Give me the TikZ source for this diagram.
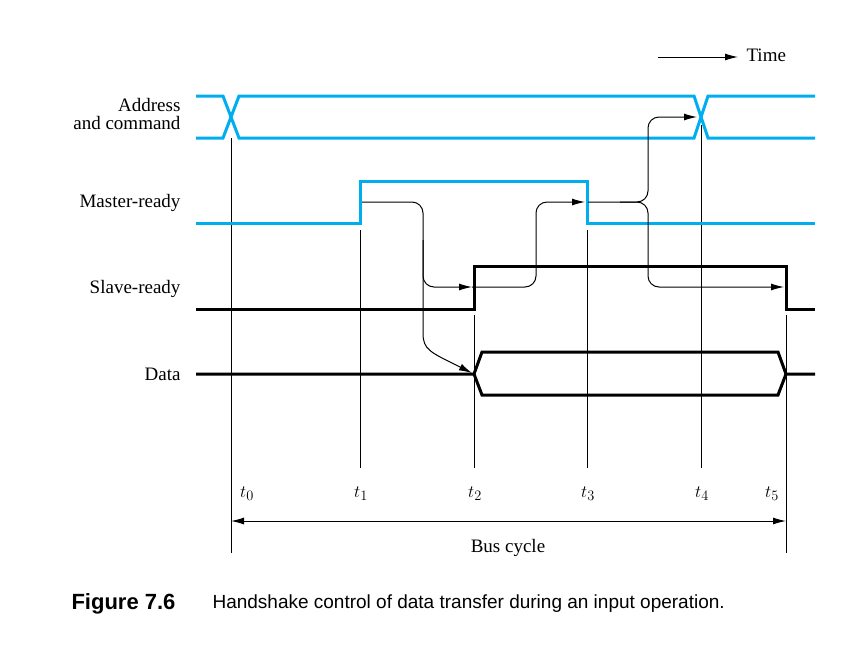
\documentclass[tikz,border=0pt]{standalone}
\usepackage{fontspec}
\setmainfont{Liberation Serif}
\newfontfamily\capfont{Liberation Sans}
\usetikzlibrary{arrows.meta}
\begin{document}
\begin{tikzpicture}[x=1pt,y=-1pt,
  blue sig/.style={draw={rgb,255:red,0;green,174;blue,239},line width=3pt},
  black sig/.style={draw=black,line width=3pt},
  vline/.style={draw=black,line width=0.9pt},
  flow/.style={draw=black,line width=1pt,rounded corners=11pt,-{Latex[length=13pt,width=7pt]}},
  sig label/.style={anchor=east,font=\fontsize{19}{21}\selectfont,align=right},
  tlabel/.style={font=\fontsize{19}{21}\selectfont}]
\useasboundingbox (0,0) rectangle (863,646);
% vertical reference lines
\draw[vline] (231,138) -- (231,553);
\draw[vline] (360,230) -- (360,468);
\draw[vline] (474,315) -- (474,468);
\draw[vline] (587,230) -- (587,468);
\draw[vline] (701,125) -- (701,468);
\draw[vline] (786,315) -- (786,553);
% Address and command
\draw[blue sig] (196,96) -- (223,96) -- (239,138) -- (694,138) -- (708,96) -- (815,96);
\draw[blue sig] (196,138) -- (223,138) -- (239,96) -- (694,96) -- (708,138) -- (815,138);
% Master-ready
\draw[blue sig] (196,223) -- (360,223) -- (360,181) -- (587,181) -- (587,223) -- (815,223);
% Slave-ready
\draw[black sig] (196,309) -- (474,309) -- (474,266) -- (786,266) -- (786,309) -- (815,309);
% Data
\draw[black sig] (196,374) -- (474,374) -- (482,352) -- (778,352) -- (786,374) -- (815,374);
\draw[black sig] (474,374) -- (482,395) -- (778,395) -- (786,374);
% handshake arrows
\coordinate (m1) at (362,202);
\coordinate (s1) at (472,287);
\coordinate (d1) at (472,373);
\coordinate (m2) at (585,202);
\coordinate (a2) at (697,117);
\coordinate (s2) at (784,287);
\draw[flow] (m1) -- (423,202) -- (423,287) -- (s1);
\draw[flow,rounded corners=0pt] (423,240) -- (423,333) .. controls (423,350) and (430,352) .. (d1);
\draw[flow] (s1) -- (536,287) -- (536,202) -- (m2);
\draw[flow] (588,202) -- (648,202) -- (648,117) -- (a2);
\draw[flow] (620,202) -- (648,202) -- (648,287) -- (s2);
% signal labels
\node[sig label] (la) at (184,114) {Address\\[-3pt]and command};
\node[sig label] (lm) at (184,203) {Master-ready};
\node[sig label] (ls) at (184,289) {Slave-ready};
\node[sig label] (ld) at (184,374) {Data};
% time labels
\node[tlabel] (t0) at (247,494) {$t_0$};
\node[tlabel] (t1) at (361,494) {$t_1$};
\node[tlabel] (t2) at (475,494) {$t_2$};
\node[tlabel] (t3) at (588,494) {$t_3$};
\node[tlabel] (t4) at (702,494) {$t_4$};
\node[tlabel] (t5) at (772,494) {$t_5$};
% bus cycle
\coordinate (b0) at (231,521);
\coordinate (b5) at (786,521);
\draw[line width=1pt,{Latex[length=13pt,width=7pt]}-{Latex[length=13pt,width=7pt]}] (b0) -- (b5);
\node[tlabel] (bc) at (508,548) {Bus cycle};
% time arrow
\coordinate (ta) at (658,57);
\coordinate (tb) at (738,57);
\draw[line width=1pt,-{Latex[length=13pt,width=7pt]}] (ta) -- (tb);
\node[tlabel,anchor=west] (time) at (743,55) {Time};
% caption
\node[anchor=west,font=\capfont\bfseries\fontsize{22}{24}\selectfont] (fig) at (68,604) {Figure 7.6};
\node[anchor=west,font=\capfont\fontsize{19}{22}\selectfont] (cap) at (209,604) {Handshake control of data transfer during an input operation.};
\end{tikzpicture}
\end{document}
